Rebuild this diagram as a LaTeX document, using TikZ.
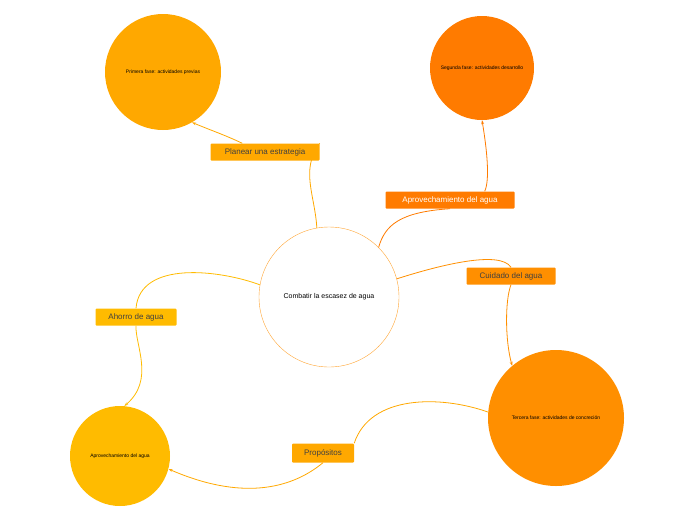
\documentclass[tikz,border=0pt]{standalone}
\usepackage{fontspec}
\setmainfont{Liberation Sans}
\usetikzlibrary{arrows.meta}
\begin{document}
\begin{tikzpicture}[x=1pt,y=-1pt,
 topic/.style={circle,inner sep=0pt,minimum size=#1,font=\fontsize{5}{6}\selectfont},
 lab/.style={rounded corners=1pt,inner sep=0pt,minimum height=17pt,font=\fontsize{8}{9}\selectfont,text=black!75},
 con/.style={line width=0.8pt},
 arr/.style={con,-{Stealth[length=4pt,open]}}]
\useasboundingbox (0,0) rectangle (696,520);
\definecolor{cA}{HTML}{FFA800}\definecolor{cB}{HTML}{FF7B00}\definecolor{cC}{HTML}{FF8F00}\definecolor{cD}{HTML}{FFBB00}
\node[topic=140pt,draw=cC!80,fill=white,font=\fontsize{7}{8}\selectfont] (c) at (329,297) {Combatir la escasez de agua};
\node[topic=116pt,fill=cA] (t1) at (163,72) {Primera fase: actividades previas};
\node[topic=104pt,fill=cB] (t2) at (482,68) {Segunda fase: actividades desarrollo};
\node[topic=136pt,fill=cC] (t3) at (556,418) {Tercera fase: actividades de concreción};
\node[topic=100pt,fill=cD] (t4) at (120,456) {Aprovechamiento del agua};
\node[lab,fill=cA,minimum width=109pt] (l1) at (265,152) {Planear una estrategia};
\node[lab,fill=cB,minimum width=129pt,text=white] (l2) at (450,200) {Aprovechamiento del agua};
\node[lab,fill=cC,minimum width=89pt] (l3) at (511,276) {Cuidado del agua};
\node[lab,fill=cD,minimum width=81pt] (l4) at (136,317) {Ahorro de agua};
\node[lab,fill=cA,minimum width=62pt,minimum height=19pt] (l5) at (323,453) {Propósitos};
\draw[con,cA] (c.100) .. controls (315,195) and (300,170) .. (l1.north east);
\draw[arr,cA] (l1.north west) ++(32,0) .. controls (225,135) and (210,130) .. (t1.-60);
\draw[con,cB] (c.45) .. controls (385,225) and (400,212) .. (l2.south);
\draw[arr,cB] (l2.north east) ++(-30,0) .. controls (490,180) and (487,150) .. (t2.south);
\draw[con,cC] (c.15) .. controls (440,265) and (500,250) .. (l3.north);
\draw[arr,cC] (l3.south) ++(0,0) .. controls (505,300) and (505,340) .. (t3.130);
\draw[con,cD] (c.170) .. controls (220,270) and (140,260) .. (l4.north);
\draw[arr,cD] (l4.south) ++(0,0) .. controls (135,345) and (155,380) .. (t4.85);
\draw[con,cA] (t3.175) .. controls (440,395) and (370,395) .. (l5.north east);
\draw[arr,cA] (l5.south) .. controls (290,490) and (240,500) .. (t4.-15);
\end{tikzpicture}
\end{document}
